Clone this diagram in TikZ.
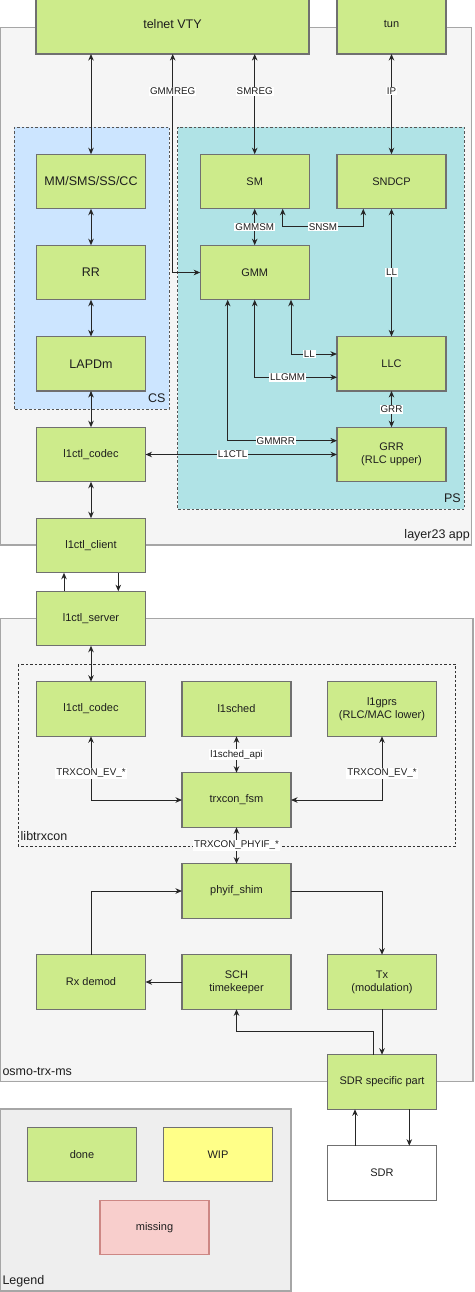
\documentclass[tikz,border=0pt]{standalone}
\usepackage{fontspec}
\setmainfont{Liberation Sans}
\usetikzlibrary{arrows.meta,calc}
\definecolor{done}{HTML}{CDEB8B}
\definecolor{wip}{HTML}{FFFF88}
\definecolor{missing}{HTML}{F8CECC}
\definecolor{missline}{HTML}{B85450}
\definecolor{boxline}{HTML}{707070}
\definecolor{edge}{HTML}{262626}
\definecolor{txt}{HTML}{1E1E1E}
\definecolor{contfill}{HTML}{F5F5F5}
\definecolor{contline}{HTML}{A6A6A6}
\definecolor{legfill}{HTML}{EEEEEE}
\definecolor{csfill}{HTML}{CCE5FF}
\definecolor{psfill}{HTML}{B0E3E6}
\definecolor{dashline}{HTML}{555555}
\tikzset{
  box/.style={draw=boxline, fill=done, line width=1.1pt, minimum width=109pt, minimum height=54.5pt,
    inner sep=1pt, outer sep=0pt, align=center, font=\fontsize{11}{13}\selectfont, text=txt},
  bigtxt/.style={font=\fontsize{12.5}{14}\selectfont},
  lbl/.style={fill=white, inner sep=1pt, font=\fontsize{9.8}{11}\selectfont, text=txt},
  contlbl/.style={inner sep=0pt, font=\fontsize{12.5}{14}\selectfont, text=txt},
  cont/.style={draw=contline, fill=contfill, line width=1.1pt},
  dashbox/.style={draw=dashline, line width=0.8pt, dash pattern=on 2.5pt off 2pt},
  link/.style={draw=edge, line width=1pt},
  both/.style={link, {Stealth[length=6.5pt,width=5.5pt,inset=2pt]}-{Stealth[length=6.5pt,width=5.5pt,inset=2pt]}},
  one/.style={link, -{Stealth[length=6.5pt,width=5.5pt,inset=2pt]}},
}
\begin{document}
\begin{tikzpicture}[x=1pt,y=-1pt]
\useasboundingbox (0,0) rectangle (474,1292);
% containers
\draw[cont] (0.5,27.3) rectangle (471.5,545);
\node[contlbl, anchor=base east] (l23lbl) at (470,538) {layer23 app};
\draw[dashbox, fill=csfill] (14,127) rectangle (169,409);
\node[contlbl, anchor=base east] (cslbl) at (165.7,402.7) {CS};
\draw[dashbox, fill=psfill] (177.7,127) rectangle (464.3,509);
\node[contlbl, anchor=base east] (pslbl) at (461,502.7) {PS};
\draw[cont] (0.5,618.3) rectangle (473,1081.7);
\node[contlbl, anchor=base west] (osmolbl) at (2.3,1075) {osmo-trx-ms};
\draw[dashbox, draw=black!80] (18.3,664.3) rectangle (455.7,846);
\node[contlbl, anchor=base west] (libtrxlbl) at (20.5,840) {libtrxcon};
\draw[cont, fill=legfill, draw=contline] (0.5,1109) rectangle (291,1291);
\node[contlbl, anchor=base west] (leglbl) at (2.3,1284) {Legend};

% nodes
\node[box, bigtxt, minimum width=273pt, minimum height=60pt] (telnet) at (172.5,24) {telnet VTY};
\node[box, minimum height=60pt] (tun) at (391.5,24) {tun};
\node[box, bigtxt] (mm) at (91,181.5) {MM/SMS/SS/CC};
\node[box] (sm) at (254.7,181.5) {SM};
\node[box] (sndcp) at (391.5,181.5) {SNDCP};
\node[box, bigtxt] (rr) at (91,272.5) {RR};
\node[box] (gmm) at (254.7,272.5) {GMM};
\node[box, bigtxt] (lapdm) at (91,363.7) {LAPDm};
\node[box] (llc) at (391.5,363.7) {LLC};
\node[box] (codec) at (91,454.5) {l1ctl\_codec};
\node[box] (grr) at (391.5,454.5) {GRR\\(RLC upper)};
\node[box] (client) at (91,545.5) {l1ctl\_client};
\node[box] (server) at (91,618.5) {l1ctl\_server};
\node[box] (codec2) at (91,709) {l1ctl\_codec};
\node[box] (sched) at (236.5,709) {l1sched};
\node[box] (gprs) at (382,709) {l1gprs\\(RLC/MAC lower)};
\node[box] (fsm) at (236.5,800) {trxcon\_fsm};
\node[box] (phyif) at (236.5,891) {phyif\_shim};
\node[box] (rx) at (91,982) {Rx demod};
\node[box] (sch) at (236.5,982) {SCH\\timekeeper};
\node[box] (tx) at (382,982) {Tx\\(modulation)};
\node[box] (sdrsp) at (382,1082) {SDR specific part};
\node[box, fill=white] (sdr) at (382,1173) {SDR};
\node[box] (ldone) at (82,1154.5) {done};
\node[box, fill=wip] (lwip) at (218,1154.5) {WIP};
\node[box, fill=missing, draw=missline!70] (lmiss) at (154.5,1227.5) {missing};

% connectors (layer23)
\draw[both] (telnet.south -| mm.north) -- (mm.north);
\draw[both] (172.7,0 |- telnet.south) -- node[lbl, pos=0.17] {GMMREG} (172.7,0 |- gmm.west) -- (gmm.west);
\draw[both] (telnet.south -| sm.north) -- node[lbl, pos=0.37] {SMREG} (sm.north);
\draw[both] (tun.south) -- node[lbl, pos=0.37] {IP} (sndcp.north);
\draw[both] (mm.south) -- (rr.north);
\draw[both] (rr.south) -- (lapdm.north);
\draw[both] (lapdm.south) -- (codec.north);
\draw[both] (codec.south) -- (client.north);
\draw[both] (sm.south) -- node[lbl] {GMMSM} (gmm.north);
\coordinate (snsmA) at (282.7,226.7);
\coordinate (snsmB) at (363.3,226.7);
\draw[both] (snsmA |- sm.south) -- (snsmA) -- node[lbl] {SNSM} (snsmB) -- (snsmB |- sndcp.south);
\draw[both] (sndcp.south) -- node[lbl] {LL} (llc.north);
\coordinate (llA) at (291,354);
\draw[both] (llA |- gmm.south) -- (llA) -- node[lbl, pos=0.4] {LL} (llA -| llc.west);
\coordinate (llgA) at (254.7,377.3);
\draw[both] (gmm.south) -- (llgA) -- node[lbl, pos=0.4] {LLGMM} (llgA -| llc.west);
\coordinate (grA) at (227.7,440.7);
\draw[both] (grA |- gmm.south) -- (grA) -- node[lbl, pos=0.44] {GMMRR} (grA -| grr.west);
\draw[both] (llc.south) -- node[lbl] {GRR} (grr.north);
\draw[both] (codec.east) -- node[lbl, pos=0.455] {L1CTL} (grr.west);

% client/server
\draw[one] (64,0 |- server.north) -- (64,0 |- client.south);
\draw[one] (118.3,0 |- client.south) -- (118.3,0 |- server.north);
\draw[both] (server.south) -- (codec2.north);

% trxcon
\draw[both] (fsm.north) -- node[lbl] {l1sched\_api} (sched.south);
\draw[both] (codec2.south) -- node[lbl, pos=0.58] {TRXCON\_EV\_*} (codec2.south |- fsm.west) -- (fsm.west);
\draw[both] (gprs.south) -- node[lbl, pos=0.58] {TRXCON\_EV\_*} (gprs.south |- fsm.east) -- (fsm.east);
\draw[both] (fsm.south) -- node[lbl] {TRXCON\_PHYIF\_*} (phyif.north);
\draw[one] (phyif.east) -- (tx.north |- phyif.east) -- (tx.north);
\draw[one] (rx.north) -- (rx.north |- phyif.west) -- (phyif.west);
\draw[one] (sch.west) -- (rx.east);
\draw[one] (tx.south) -- (sdrsp.north);
\coordinate (tkA) at (373.3,1031.7);
\draw[one] (tkA |- sdrsp.north) -- (tkA) -- (tkA -| sch.south) -- (sch.south);
\draw[one] (355,0 |- sdr.north) -- (355,0 |- sdrsp.south);
\draw[one] (409.3,0 |- sdrsp.south) -- (409.3,0 |- sdr.north);
\end{tikzpicture}
\end{document}
